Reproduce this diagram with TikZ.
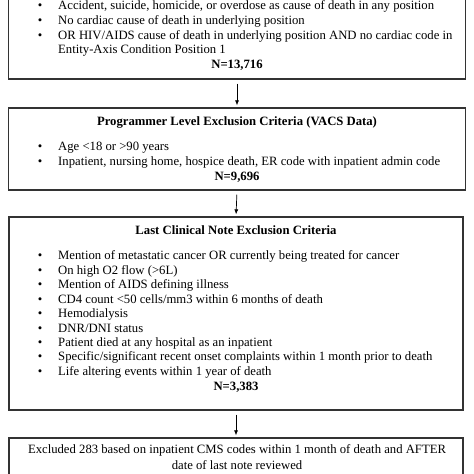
\documentclass[tikz,border=0pt]{standalone}
\usepackage{fontspec}
\setmainfont{Liberation Serif}
\usetikzlibrary{arrows.meta}
\begin{document}
\begin{tikzpicture}[x=1pt,y=-1pt,
  box/.style={draw=black!80,line width=1.3pt,rectangle,inner sep=0pt},
  txt/.style={anchor=base west,inner sep=0pt,font=\fontsize{12.7}{14}\selectfont},
  bul/.style={anchor=base,inner sep=0pt,font=\fontsize{12.7}{14}\selectfont},
  ctr/.style={anchor=base,inner sep=0pt,font=\fontsize{12.7}{14}\selectfont},
  ttl/.style={anchor=base,inner sep=0pt,font=\fontsize{12.7}{14}\selectfont\bfseries},
  arr/.style={-{Latex[length=5pt,width=4pt]},line width=0.7pt,shorten <=4pt,shorten >=2pt}]
\useasboundingbox (0,0) rectangle (474,474);
\begin{scope}
\clip (0,0) rectangle (474,474);
% boxes
\node[box,minimum width=457pt,minimum height=110pt] (b1) at (237,24) {};
\node[box,minimum width=457pt,minimum height=82pt] (b2) at (237,149) {};
\node[box,minimum width=454pt,minimum height=193pt] (b3) at (236,313.5) {};
\node[box,minimum width=454pt,minimum height=80pt] (b4) at (236,478) {};
% box 1
\node[bul] (b1d1) at (40,9.5) {•};
\node[txt] (b1t1) at (58,9.5) {Accident, suicide, homicide, or overdose as cause of death in any position};
\node[bul] (b1d2) at (40,24.5) {•};
\node[txt] (b1t2) at (58,24.5) {No cardiac cause of death in underlying position};
\node[bul] (b1d3) at (40,39.5) {•};
\node[txt] (b1t3) at (58,39.5) {OR HIV/AIDS cause of death in underlying position AND no cardiac code in};
\node[txt] (b1t4) at (58,53.5) {Entity-Axis Condition Position 1};
\node[ttl] (b1n) at (237,68.5) {N=13,716};
% box 2
\node[ttl] (b2h) at (237,125.5) {Programmer Level Exclusion Criteria (VACS Data)};
\node[bul] (b2d1) at (40,150.5) {•};
\node[txt] (b2t1) at (58,150.5) {Age <18 or >90 years};
\node[bul] (b2d2) at (40,165.5) {•};
\node[txt] (b2t2) at (58,165.5) {Inpatient, nursing home, hospice death, ER code with inpatient admin code};
\node[ttl] (b2n) at (237,180.5) {N=9,696};
% box 3
\node[ttl] (b3h) at (236,234.5) {Last Clinical Note Exclusion Criteria};
\foreach \i/\y/\t in {1/259.5/{Mention of metastatic cancer OR currently being treated for cancer},
  2/274.5/{On high O2 flow (>6L)},
  3/288.5/{Mention of AIDS defining illness},
  4/303.5/{CD4 count <50 cells/mm3 within 6 months of death},
  5/317.5/{Hemodialysis},
  6/332.5/{DNR/DNI status},
  7/346.5/{Patient died at any hospital as an inpatient},
  8/360.5/{Specific/significant recent onset complaints within 1 month prior to death},
  9/375.5/{Life altering events within 1 year of death}}{
  \node[bul] (b3d\i) at (40,\y) {•};
  \node[txt] (b3t\i) at (58,\y) {\t};
}
\node[ttl] (b3n) at (236,390.5) {N=3,383};
% box 4
\node[ctr] (b4t1) at (237,453.5) {Excluded 283 based on inpatient CMS codes within 1 month of death and AFTER};
\node[ctr] (b4t2) at (237,469.5) {date of last note reviewed};
% arrows
\draw[arr] (b1.south) -- (b2.north);
\draw[arr] (b2.south) -- (b3.north);
\draw[arr] (b3.south) -- (b4.north);
\end{scope}
\end{tikzpicture}
\end{document}
